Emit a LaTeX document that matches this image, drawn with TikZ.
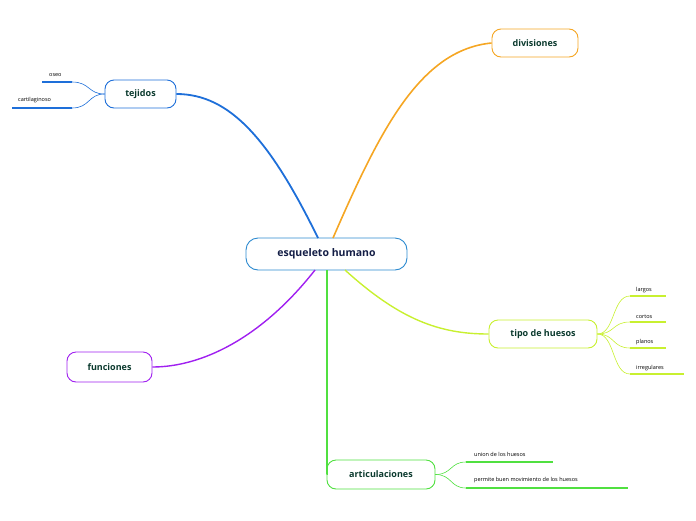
\documentclass[tikz,border=0pt]{standalone}
\usepackage{fontspec}
\setmainfont{Open Sans}
\definecolor{cblue}{HTML}{1E6FD9}
\definecolor{corange}{HTML}{F5A623}
\definecolor{cyel}{HTML}{C8F030}
\definecolor{cpur}{HTML}{A020F0}
\definecolor{cgreen}{HTML}{50E040}
\definecolor{ccen}{HTML}{2C8AD0}
\definecolor{ctext}{HTML}{0B3A2E}
\begin{document}
\begin{tikzpicture}[x=1pt,y=-1pt,
  topic/.style={draw=#1,line width=0.9pt,rounded corners=9pt,fill=white,font=\bfseries\fontsize{9}{11}\selectfont,text=ctext,minimum height=28pt,inner xsep=0pt},
  sub/.style={font=\fontsize{5.5}{7}\selectfont,text=black,anchor=south west,inner sep=1pt},
  con/.style={draw=#1,line width=1pt}]
\useasboundingbox (0,0) rectangle (696,520);
\node[topic=ccen,minimum width=161pt,minimum height=32pt,rounded corners=12pt,font=\bfseries\fontsize{10.5}{12}\selectfont,text={rgb,255:red,20;green,30;blue,70}] (c) at (326.5,254) {esqueleto humano};
\node[topic=cblue,minimum width=71pt] (tej) at (140.5,94) {tejidos};
\node[topic=corange,minimum width=86pt] (div) at (535,43) {divisiones};
\node[topic=cyel,minimum width=108pt] (tip) at (543,334) {tipo de huesos};
\node[topic=cpur,minimum width=85pt,minimum height=30pt] (fun) at (109.5,367) {funciones};
\node[topic=cgreen,minimum width=108pt,minimum height=29pt] (art) at (381,474.5) {articulaciones};
% center connectors
\draw[con=cblue,line width=1.8pt] (318,238) .. controls (270,140) and (230,94) .. (tej.east);
\draw[con=corange,line width=1.6pt] (333,238) .. controls (380,130) and (420,50) .. (div.west);
\draw[con=cyel,line width=1.4pt] (345,270) .. controls (400,320) and (440,334) .. (tip.west);
\draw[con=cpur,line width=1.4pt] (315,270) .. controls (260,340) and (200,367) .. (fun.east);
\draw[con=cgreen,line width=1.6pt] (327,270) -- (327,474.5) -- (art.west);
% tejidos subs
\coordinate (o1) at (72,82); \coordinate (o1l) at (42,82);
\coordinate (o2) at (72,108); \coordinate (o2l) at (12,108);
\node[sub] (oseo) at (48,78) {oseo};
\node[sub] (cart) at (17,104) {cartilaginoso};
\draw[con=cblue,line width=1.2pt] (o1l) -- (o1);
\draw[con=cblue,line width=1.2pt] (o2l) -- (o2);
\draw[con=cblue,line width=0.6pt] (tej.west) .. controls (88,94) and (90,82) .. (o1);
\draw[con=cblue,line width=0.6pt] (tej.west) .. controls (88,94) and (90,108) .. (o2);
% tipo subs
\foreach \n/\t/\y/\w in {a/largos/296/666,b/cortos/322/666,c/planos/348/666,d/irregulares/374/684}{
  \coordinate (t\n) at (630,\y);
  \draw[con=cyel,line width=1.2pt] (t\n) -- (\w,\y);
  \draw[con=cyel,line width=0.6pt] (tip.east) .. controls (615,334) and (612,\y) .. (t\n);
  \node[sub] at (635,\y-2) {\t};
}
% articulaciones subs
\coordinate (u1) at (466,462); \coordinate (u2) at (466,488);
\draw[con=cgreen,line width=1.2pt] (u1) -- (553,462);
\draw[con=cgreen,line width=1.2pt] (u2) -- (628,488);
\draw[con=cgreen,line width=0.6pt] (art.east) .. controls (452,474.5) and (450,462) .. (u1);
\draw[con=cgreen,line width=0.6pt] (art.east) .. controls (452,474.5) and (450,488) .. (u2);
\node[sub] at (473,458) {union de los huesos};
\node[sub] at (473,484) {permite buen movimiento de los huesos};
\end{tikzpicture}
\end{document}
